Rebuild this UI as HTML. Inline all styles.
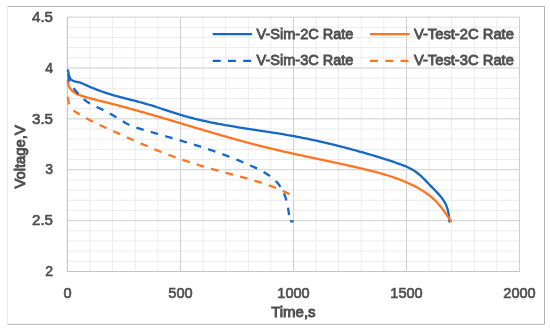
<!DOCTYPE html>
<html><head><meta charset="utf-8"><title>Chart</title>
<style>html,body{margin:0;padding:0;background:#fff}svg{display:block}</style></head>
<body>
<svg width="550" height="332" viewBox="0 0 550 332">
<defs><filter id="soft" x="0" y="0" width="100%" height="100%" filterUnits="objectBoundingBox"><feGaussianBlur stdDeviation="0.4"/></filter></defs>
<rect width="550" height="332" fill="#fff"/>
<g filter="url(#soft)">
<rect width="550" height="332" fill="#fff"/>
<rect x="7.4" y="6.4" width="537.1" height="318.0" fill="#fff" stroke="none"/>
<path d="M7.4 6.5H544.5V324.3H7.4" stroke="#b2b2b2" stroke-width="1" fill="none"/>
<path d="M7.4 6.5V324.3" stroke="#e9e9e9" stroke-width="1" fill="none"/>
<path d="M90.05 17.10V271.50M112.66 17.10V271.50M135.26 17.10V271.50M157.86 17.10V271.50M203.06 17.10V271.50M225.67 17.10V271.50M248.27 17.10V271.50M270.87 17.10V271.50M316.08 17.10V271.50M338.68 17.10V271.50M361.28 17.10V271.50M383.88 17.10V271.50M429.09 17.10V271.50M451.69 17.10V271.50M474.29 17.10V271.50M496.90 17.10V271.50M67.45 27.28H519.50M67.45 37.45H519.50M67.45 47.63H519.50M67.45 57.80H519.50M67.45 78.16H519.50M67.45 88.33H519.50M67.45 98.51H519.50M67.45 108.68H519.50M67.45 129.04H519.50M67.45 139.21H519.50M67.45 149.39H519.50M67.45 159.56H519.50M67.45 179.92H519.50M67.45 190.09H519.50M67.45 200.27H519.50M67.45 210.44H519.50M67.45 230.80H519.50M67.45 240.97H519.50M67.45 251.15H519.50M67.45 261.32H519.50" stroke="#ebebeb" stroke-width="1" fill="none"/>
<path d="M67.45 17.10V271.50M180.46 17.10V271.50M293.47 17.10V271.50M406.49 17.10V271.50M519.50 17.10V271.50M67.45 17.10H519.50M67.45 67.98H519.50M67.45 118.86H519.50M67.45 169.74H519.50M67.45 220.62H519.50M67.45 271.50H519.50" stroke="#cfcfcf" stroke-width="1" fill="none"/>
<path d="M67.45 17.10V271.50H519.50" stroke="#c4c4c4" stroke-width="1.1" fill="none"/>
<path d="M67.90 70.31 L68.30 71.85 L68.64 73.51 L69.00 75.20 L69.48 76.84 L70.17 78.34 L71.15 79.59 L72.43 80.50 L73.95 81.12 L75.58 81.55 L77.24 81.90 L78.89 82.26 L80.50 82.72 L82.05 83.30 L83.56 83.97 L85.06 84.67 L86.56 85.36 L88.07 86.04 L89.59 86.71 L91.11 87.36 L92.64 87.99 L94.18 88.62 L95.72 89.23 L97.27 89.82 L98.83 90.41 L100.39 90.98 L101.95 91.53 L103.52 92.08 L105.09 92.61 L106.67 93.13 L108.25 93.64 L109.84 94.13 L111.43 94.62 L113.02 95.09 L114.61 95.55 L116.21 96.00 L117.81 96.44 L119.42 96.88 L121.02 97.30 L122.63 97.72 L124.24 98.13 L125.85 98.54 L127.46 98.95 L129.07 99.36 L130.68 99.76 L132.29 100.16 L133.90 100.57 L135.50 100.98 L137.11 101.39 L138.72 101.81 L140.32 102.24 L141.93 102.67 L143.53 103.11 L145.12 103.56 L146.72 104.03 L148.31 104.50 L149.90 104.98 L151.49 105.47 L153.07 105.96 L154.66 106.47 L156.24 106.98 L157.82 107.49 L159.40 108.01 L160.98 108.53 L162.56 109.05 L164.14 109.57 L165.72 110.09 L167.30 110.61 L168.88 111.14 L170.46 111.65 L172.04 112.17 L173.62 112.68 L175.20 113.18 L176.79 113.68 L178.37 114.17 L179.96 114.66 L181.55 115.13 L183.14 115.60 L184.74 116.05 L186.33 116.50 L187.93 116.94 L189.53 117.37 L191.13 117.79 L192.74 118.21 L194.35 118.61 L195.95 119.01 L197.56 119.40 L199.18 119.78 L200.79 120.16 L202.41 120.53 L204.02 120.89 L205.64 121.24 L207.26 121.59 L208.88 121.94 L210.51 122.27 L212.13 122.60 L213.76 122.93 L215.39 123.25 L217.01 123.56 L218.64 123.87 L220.28 124.18 L221.91 124.48 L223.54 124.77 L225.18 125.06 L226.81 125.35 L228.45 125.64 L230.08 125.92 L231.72 126.19 L233.36 126.47 L235.00 126.74 L236.64 127.01 L238.28 127.27 L239.92 127.54 L241.57 127.80 L243.21 128.06 L244.85 128.31 L246.50 128.57 L248.14 128.82 L249.78 129.08 L251.43 129.33 L253.07 129.58 L254.72 129.83 L256.36 130.08 L258.01 130.33 L259.65 130.58 L261.30 130.83 L262.94 131.08 L264.59 131.33 L266.23 131.59 L267.88 131.84 L269.52 132.10 L271.17 132.35 L272.81 132.61 L274.46 132.87 L276.10 133.13 L277.74 133.39 L279.38 133.66 L281.03 133.93 L282.67 134.20 L284.31 134.48 L285.95 134.76 L287.58 135.04 L289.22 135.32 L290.86 135.61 L292.50 135.91 L294.13 136.20 L295.77 136.50 L297.40 136.81 L299.03 137.12 L300.66 137.44 L302.29 137.76 L303.92 138.08 L305.55 138.41 L307.18 138.74 L308.80 139.07 L310.43 139.41 L312.05 139.76 L313.68 140.10 L315.30 140.46 L316.92 140.81 L318.54 141.17 L320.16 141.54 L321.78 141.90 L323.40 142.27 L325.02 142.65 L326.63 143.03 L328.25 143.41 L329.86 143.79 L331.48 144.18 L333.09 144.58 L334.70 144.97 L336.31 145.37 L337.92 145.78 L339.53 146.18 L341.14 146.59 L342.75 147.01 L344.36 147.42 L345.96 147.84 L347.57 148.27 L349.17 148.69 L350.77 149.12 L352.38 149.56 L353.98 149.99 L355.58 150.43 L357.18 150.88 L358.78 151.32 L360.37 151.77 L361.97 152.22 L363.57 152.67 L365.16 153.13 L366.76 153.59 L368.35 154.05 L369.95 154.52 L371.54 154.99 L373.13 155.46 L374.72 155.93 L376.31 156.41 L377.90 156.89 L379.49 157.37 L381.07 157.86 L382.66 158.35 L384.24 158.85 L385.82 159.35 L387.40 159.86 L388.98 160.37 L390.56 160.89 L392.13 161.42 L393.70 161.95 L395.27 162.49 L396.84 163.04 L398.40 163.60 L399.96 164.16 L401.52 164.73 L403.07 165.32 L404.62 165.93 L406.15 166.56 L407.68 167.23 L409.18 167.94 L410.66 168.70 L412.13 169.51 L413.56 170.37 L414.97 171.29 L416.34 172.25 L417.66 173.25 L418.95 174.29 L420.20 175.36 L421.42 176.46 L422.62 177.59 L423.79 178.73 L424.95 179.90 L426.10 181.08 L427.24 182.27 L428.38 183.47 L429.52 184.68 L430.67 185.88 L431.84 187.08 L433.01 188.28 L434.20 189.49 L435.38 190.69 L436.55 191.91 L437.70 193.13 L438.83 194.37 L439.93 195.63 L440.99 196.91 L442.01 198.22 L442.97 199.56 L443.88 200.93 L444.72 202.34 L445.48 203.79 L446.17 205.28 L446.77 206.81 L447.30 208.38 L447.76 209.97 L448.15 211.59 L448.49 213.23 L448.76 214.88 L448.98 216.54 L449.16 218.20 L449.29 219.85 L449.38 221.50" stroke="#1767c6" stroke-width="2.3" fill="none" stroke-linejoin="round" stroke-linecap="round"/>
<path d="M67.80 80.45 L67.81 82.18 L68.05 83.83 L68.51 85.40 L69.17 86.87 L69.99 88.25 L70.97 89.52 L72.07 90.67 L73.28 91.71 L74.57 92.63 L75.93 93.44 L77.36 94.16 L78.84 94.80 L80.36 95.38 L81.91 95.90 L83.49 96.39 L85.06 96.85 L86.64 97.31 L88.22 97.75 L89.79 98.18 L91.37 98.60 L92.94 99.02 L94.51 99.43 L96.08 99.84 L97.64 100.24 L99.21 100.64 L100.77 101.03 L102.34 101.42 L103.90 101.81 L105.46 102.20 L107.02 102.60 L108.58 102.99 L110.14 103.38 L111.70 103.78 L113.26 104.18 L114.82 104.58 L116.38 104.99 L117.94 105.39 L119.50 105.80 L121.05 106.22 L122.61 106.63 L124.17 107.05 L125.72 107.47 L127.28 107.89 L128.84 108.31 L130.39 108.74 L131.95 109.17 L133.50 109.60 L135.06 110.03 L136.61 110.47 L138.17 110.90 L139.72 111.34 L141.28 111.78 L142.83 112.22 L144.38 112.67 L145.94 113.11 L147.49 113.56 L149.05 114.00 L150.60 114.45 L152.15 114.90 L153.70 115.35 L155.26 115.81 L156.81 116.26 L158.36 116.72 L159.92 117.17 L161.47 117.63 L163.02 118.09 L164.57 118.54 L166.12 119.00 L167.68 119.46 L169.23 119.92 L170.78 120.39 L172.33 120.85 L173.89 121.31 L175.44 121.77 L176.99 122.24 L178.54 122.70 L180.10 123.16 L181.65 123.63 L183.20 124.09 L184.75 124.55 L186.31 125.02 L187.86 125.48 L189.41 125.95 L190.96 126.41 L192.52 126.87 L194.07 127.34 L195.62 127.80 L197.18 128.26 L198.73 128.73 L200.29 129.19 L201.84 129.65 L203.39 130.11 L204.95 130.57 L206.50 131.03 L208.06 131.49 L209.61 131.94 L211.17 132.40 L212.72 132.85 L214.28 133.31 L215.84 133.76 L217.39 134.21 L218.95 134.67 L220.51 135.11 L222.06 135.56 L223.62 136.01 L225.18 136.46 L226.74 136.90 L228.30 137.34 L229.86 137.78 L231.42 138.22 L232.98 138.66 L234.54 139.09 L236.10 139.53 L237.66 139.96 L239.22 140.39 L240.78 140.82 L242.35 141.24 L243.91 141.66 L245.47 142.09 L247.04 142.50 L248.60 142.92 L250.16 143.34 L251.73 143.75 L253.30 144.16 L254.86 144.56 L256.43 144.97 L258.00 145.37 L259.56 145.77 L261.13 146.16 L262.70 146.55 L264.27 146.94 L265.84 147.33 L267.41 147.71 L268.98 148.10 L270.56 148.47 L272.13 148.85 L273.70 149.22 L275.28 149.59 L276.85 149.96 L278.42 150.33 L280.00 150.69 L281.58 151.05 L283.15 151.41 L284.73 151.77 L286.30 152.12 L287.88 152.47 L289.46 152.82 L291.04 153.17 L292.61 153.52 L294.19 153.87 L295.77 154.22 L297.35 154.56 L298.93 154.90 L300.51 155.24 L302.09 155.58 L303.67 155.92 L305.25 156.26 L306.83 156.60 L308.41 156.94 L309.99 157.28 L311.57 157.61 L313.15 157.95 L314.73 158.28 L316.31 158.62 L317.90 158.95 L319.48 159.29 L321.06 159.62 L322.64 159.96 L324.22 160.29 L325.80 160.63 L327.38 160.97 L328.96 161.30 L330.54 161.64 L332.12 161.98 L333.71 162.32 L335.29 162.66 L336.87 163.00 L338.45 163.34 L340.03 163.68 L341.61 164.02 L343.19 164.37 L344.77 164.71 L346.35 165.06 L347.92 165.41 L349.50 165.76 L351.08 166.11 L352.66 166.47 L354.24 166.82 L355.81 167.18 L357.39 167.54 L358.97 167.90 L360.54 168.27 L362.12 168.64 L363.70 169.01 L365.27 169.38 L366.84 169.76 L368.41 170.14 L369.98 170.53 L371.55 170.93 L373.12 171.33 L374.69 171.73 L376.25 172.15 L377.81 172.57 L379.37 173.00 L380.93 173.44 L382.48 173.88 L384.03 174.34 L385.58 174.80 L387.12 175.27 L388.67 175.76 L390.21 176.26 L391.74 176.76 L393.27 177.28 L394.80 177.81 L396.33 178.36 L397.85 178.91 L399.36 179.48 L400.87 180.07 L402.38 180.67 L403.88 181.28 L405.38 181.91 L406.88 182.55 L408.36 183.22 L409.84 183.89 L411.32 184.59 L412.78 185.30 L414.24 186.03 L415.68 186.79 L417.12 187.56 L418.54 188.35 L419.94 189.16 L421.34 189.99 L422.71 190.85 L424.07 191.72 L425.41 192.62 L426.73 193.55 L428.03 194.50 L429.32 195.47 L430.57 196.47 L431.81 197.49 L433.02 198.54 L434.20 199.62 L435.36 200.73 L436.49 201.86 L437.59 203.02 L438.66 204.21 L439.70 205.44 L440.72 206.68 L441.71 207.95 L442.68 209.24 L443.63 210.55 L444.56 211.87 L445.49 213.20 L446.41 214.54 L447.32 215.88 L448.23 217.22 L449.14 218.55 L450.06 219.88 L450.99 221.20" stroke="#ff7420" stroke-width="2.3" fill="none" stroke-linejoin="round" stroke-linecap="round"/>
<path d="M67.90 70.30 L68.06 71.37 L68.18 72.46 L68.28 73.57 L68.38 74.69 L68.47 75.82 L68.58 76.95 L68.72 78.07 L68.89 79.18 L69.12 80.28 L69.42 81.34 L69.79 82.38 L70.23 83.38 L70.75 84.34 L71.33 85.28 L71.96 86.18 L72.64 87.06 L73.33 87.94 L74.04 88.81 L74.74 89.67 L75.45 90.53 L76.17 91.39 L76.90 92.24 L77.63 93.07 L78.37 93.90 L79.13 94.72 L79.90 95.52 L80.68 96.31 L81.48 97.08 L82.29 97.83 L83.11 98.57 L83.96 99.29 L84.81 99.99 L85.69 100.67 L86.58 101.33 L87.49 101.97 L88.42 102.58 L89.36 103.18 L90.33 103.74 L91.31 104.29 L92.31 104.81 L93.32 105.32 L94.34 105.81 L95.36 106.29 L96.38 106.77 L97.40 107.24 L98.41 107.71 L99.41 108.18 L100.41 108.65 L101.41 109.12 L102.40 109.60 L103.38 110.08 L104.37 110.56 L105.35 111.06 L106.32 111.56 L107.29 112.06 L108.26 112.58 L109.22 113.11 L110.19 113.65 L111.15 114.21 L112.10 114.77 L113.06 115.35 L114.01 115.93 L114.96 116.52 L115.92 117.11 L116.87 117.71 L117.82 118.31 L118.77 118.90 L119.73 119.50 L120.69 120.09 L121.65 120.67 L122.61 121.24 L123.58 121.81 L124.55 122.37 L125.53 122.91 L126.51 123.43 L127.50 123.94 L128.49 124.44 L129.49 124.91 L130.49 125.36 L131.51 125.79 L132.52 126.21 L133.55 126.60 L134.58 126.98 L135.61 127.35 L136.65 127.71 L137.70 128.05 L138.74 128.38 L139.80 128.71 L140.85 129.03 L141.91 129.35 L142.96 129.66 L144.03 129.98 L145.09 130.29 L146.15 130.60 L147.21 130.91 L148.28 131.22 L149.35 131.53 L150.42 131.84 L151.49 132.15 L152.56 132.46 L153.63 132.77 L154.70 133.08 L155.77 133.39 L156.84 133.70 L157.92 134.01 L158.99 134.32 L160.07 134.63 L161.14 134.93 L162.22 135.24 L163.29 135.55 L164.37 135.86 L165.45 136.17 L166.52 136.48 L167.60 136.79 L168.67 137.10 L169.75 137.41 L170.82 137.72 L171.90 138.03 L172.97 138.34 L174.04 138.65 L175.12 138.96 L176.19 139.28 L177.26 139.59 L178.33 139.90 L179.40 140.22 L180.47 140.53 L181.53 140.85 L182.60 141.16 L183.67 141.48 L184.73 141.80 L185.79 142.12 L186.86 142.44 L187.92 142.76 L188.98 143.08 L190.04 143.40 L191.10 143.72 L192.15 144.05 L193.21 144.37 L194.27 144.70 L195.32 145.03 L196.38 145.36 L197.43 145.69 L198.48 146.02 L199.54 146.36 L200.59 146.69 L201.64 147.03 L202.69 147.37 L203.74 147.71 L204.79 148.05 L205.83 148.39 L206.88 148.74 L207.93 149.09 L208.97 149.44 L210.02 149.79 L211.06 150.14 L212.11 150.50 L213.15 150.85 L214.20 151.21 L215.24 151.57 L216.28 151.94 L217.32 152.30 L218.36 152.67 L219.40 153.04 L220.45 153.42 L221.49 153.79 L222.52 154.17 L223.56 154.55 L224.60 154.94 L225.64 155.32 L226.68 155.71 L227.72 156.10 L228.75 156.50 L229.79 156.89 L230.83 157.29 L231.86 157.70 L232.90 158.10 L233.94 158.51 L234.97 158.92 L236.01 159.34 L237.04 159.76 L238.08 160.18 L239.11 160.61 L240.15 161.03 L241.18 161.47 L242.22 161.90 L243.25 162.34 L244.29 162.78 L245.32 163.23 L246.36 163.68 L247.39 164.13 L248.42 164.59 L249.46 165.05 L250.49 165.51 L251.53 165.98 L252.56 166.45 L253.59 166.93 L254.62 167.41 L255.65 167.90 L256.67 168.40 L257.69 168.90 L258.70 169.41 L259.71 169.93 L260.71 170.46 L261.70 170.99 L262.68 171.54 L263.66 172.09 L264.62 172.66 L265.57 173.24 L266.51 173.83 L267.44 174.43 L268.36 175.04 L269.26 175.67 L270.15 176.32 L271.02 176.97 L271.88 177.64 L272.72 178.33 L273.54 179.03 L274.34 179.75 L275.13 180.49 L275.89 181.24 L276.63 182.02 L277.36 182.81 L278.05 183.62 L278.73 184.45 L279.38 185.30 L280.01 186.17 L280.61 187.06 L281.19 187.98 L281.74 188.91 L282.27 189.86 L282.77 190.83 L283.25 191.82 L283.71 192.83 L284.14 193.85 L284.56 194.88 L284.95 195.93 L285.32 196.99 L285.67 198.06 L286.01 199.14 L286.32 200.23 L286.62 201.33 L286.90 202.43 L287.16 203.54 L287.41 204.66 L287.64 205.78 L287.85 206.90 L288.05 208.02 L288.24 209.15 L288.42 210.27 L288.58 211.39 L288.73 212.51 L288.87 213.63 L288.99 214.74 L289.11 215.85 L289.22 216.95 L289.32 218.04 L289.41 219.13 L289.49 220.20 L289.57 221.27" stroke="#1767c6" stroke-width="2.3" fill="none" stroke-linejoin="round" stroke-dasharray="7.6 7.4" stroke-dashoffset="10.8"/>
<path d="M289.9 221.3H293.6" stroke="#1767c6" stroke-width="2.3" fill="none"/>
<path d="M67.82 96.49 L67.90 97.41 L68.01 98.36 L68.15 99.31 L68.31 100.27 L68.51 101.23 L68.73 102.18 L69.00 103.12 L69.31 104.05 L69.66 104.95 L70.05 105.83 L70.49 106.67 L70.99 107.47 L71.53 108.23 L72.13 108.95 L72.77 109.62 L73.45 110.27 L74.17 110.88 L74.92 111.46 L75.69 112.02 L76.49 112.56 L77.30 113.08 L78.13 113.59 L78.97 114.09 L79.81 114.58 L80.64 115.06 L81.48 115.55 L82.32 116.03 L83.15 116.51 L83.99 116.98 L84.82 117.45 L85.66 117.92 L86.49 118.38 L87.33 118.84 L88.17 119.29 L89.01 119.75 L89.85 120.19 L90.69 120.63 L91.53 121.07 L92.38 121.51 L93.23 121.93 L94.09 122.36 L94.94 122.78 L95.80 123.19 L96.66 123.60 L97.53 124.01 L98.39 124.42 L99.26 124.82 L100.13 125.22 L101.00 125.62 L101.87 126.01 L102.75 126.41 L103.62 126.80 L104.49 127.20 L105.37 127.59 L106.24 127.98 L107.11 128.38 L107.99 128.77 L108.86 129.17 L109.73 129.56 L110.61 129.95 L111.48 130.35 L112.35 130.75 L113.23 131.14 L114.10 131.54 L114.97 131.93 L115.85 132.33 L116.72 132.72 L117.59 133.12 L118.46 133.51 L119.34 133.91 L120.21 134.31 L121.08 134.70 L121.96 135.10 L122.83 135.49 L123.70 135.88 L124.58 136.28 L125.45 136.67 L126.32 137.07 L127.20 137.46 L128.07 137.85 L128.95 138.24 L129.82 138.63 L130.69 139.03 L131.57 139.42 L132.44 139.81 L133.32 140.19 L134.19 140.58 L135.07 140.97 L135.95 141.36 L136.82 141.74 L137.70 142.13 L138.58 142.51 L139.45 142.90 L140.33 143.28 L141.21 143.66 L142.09 144.04 L142.96 144.42 L143.84 144.80 L144.72 145.18 L145.60 145.56 L146.48 145.93 L147.36 146.31 L148.24 146.68 L149.13 147.05 L150.01 147.42 L150.89 147.79 L151.77 148.16 L152.66 148.53 L153.54 148.89 L154.42 149.26 L155.31 149.62 L156.19 149.98 L157.08 150.34 L157.97 150.70 L158.85 151.05 L159.74 151.41 L160.63 151.76 L161.52 152.11 L162.41 152.46 L163.30 152.81 L164.19 153.16 L165.08 153.50 L165.97 153.84 L166.87 154.18 L167.76 154.52 L168.65 154.86 L169.55 155.19 L170.45 155.52 L171.34 155.86 L172.24 156.18 L173.14 156.51 L174.04 156.84 L174.93 157.16 L175.83 157.48 L176.74 157.80 L177.64 158.12 L178.54 158.43 L179.44 158.75 L180.34 159.06 L181.25 159.37 L182.15 159.68 L183.06 159.99 L183.96 160.29 L184.87 160.60 L185.78 160.90 L186.68 161.20 L187.59 161.50 L188.50 161.80 L189.41 162.09 L190.32 162.39 L191.23 162.68 L192.14 162.97 L193.05 163.26 L193.96 163.55 L194.88 163.84 L195.79 164.13 L196.70 164.41 L197.62 164.70 L198.53 164.98 L199.45 165.26 L200.36 165.54 L201.28 165.82 L202.19 166.09 L203.11 166.37 L204.03 166.64 L204.95 166.92 L205.86 167.19 L206.78 167.46 L207.70 167.73 L208.62 168.00 L209.54 168.27 L210.46 168.54 L211.38 168.80 L212.30 169.07 L213.22 169.33 L214.14 169.60 L215.06 169.86 L215.99 170.12 L216.91 170.38 L217.83 170.64 L218.75 170.90 L219.68 171.16 L220.60 171.41 L221.52 171.67 L222.45 171.93 L223.37 172.18 L224.30 172.43 L225.22 172.69 L226.15 172.94 L227.07 173.19 L228.00 173.44 L228.93 173.70 L229.85 173.95 L230.78 174.20 L231.70 174.44 L232.63 174.69 L233.56 174.94 L234.49 175.19 L235.41 175.44 L236.34 175.68 L237.27 175.93 L238.19 176.18 L239.12 176.43 L240.05 176.67 L240.98 176.92 L241.90 177.17 L242.83 177.42 L243.75 177.67 L244.68 177.92 L245.61 178.17 L246.53 178.43 L247.46 178.68 L248.38 178.94 L249.30 179.19 L250.23 179.45 L251.15 179.71 L252.07 179.98 L252.99 180.24 L253.91 180.51 L254.83 180.78 L255.75 181.05 L256.66 181.32 L257.58 181.60 L258.49 181.88 L259.41 182.16 L260.32 182.44 L261.23 182.73 L262.14 183.02 L263.05 183.32 L263.96 183.61 L264.87 183.91 L265.77 184.22 L266.68 184.53 L267.58 184.84 L268.48 185.16 L269.38 185.48 L270.28 185.80 L271.17 186.13 L272.07 186.47 L272.96 186.81 L273.85 187.15 L274.74 187.50 L275.62 187.85 L276.51 188.21 L277.39 188.57 L278.27 188.94 L279.15 189.32 L280.03 189.70 L280.90 190.08 L281.77 190.47 L282.64 190.87 L283.51 191.28 L284.38 191.69 L285.24 192.10 L286.10 192.52 L286.96 192.95 L287.81 193.39 L288.66 193.83 L289.51 194.28" stroke="#ff7420" stroke-width="2.3" fill="none" stroke-linejoin="round" stroke-dasharray="7.6 7.4" stroke-dashoffset="-0.3"/>
<path d="M212.7 34.05H252.2" stroke="#1767c6" stroke-width="2.3"/>
<path d="M212.7 60.9H252.2" stroke="#1767c6" stroke-width="2.3" stroke-dasharray="8 7.25"/>
<path d="M370 34.05H409.5" stroke="#ff7420" stroke-width="2.3"/>
<path d="M370 60.9H409.5" stroke="#ff7420" stroke-width="2.3" stroke-dasharray="8 7.25"/>
<g font-family="'Liberation Sans', Arial, sans-serif" font-weight="normal" font-size="15" fill="#4f4f4f" stroke="#4f4f4f" stroke-width="0.65">
<text x="256.6" y="38.5" text-anchor="start" textLength="96.8" lengthAdjust="spacingAndGlyphs" stroke-width="0.85">V-Sim-2C Rate</text>
<text x="256.6" y="65.4" text-anchor="start" textLength="96.8" lengthAdjust="spacingAndGlyphs" stroke-width="0.85">V-Sim-3C Rate</text>
<text x="413.9" y="38.5" text-anchor="start" textLength="100.0" lengthAdjust="spacingAndGlyphs" stroke-width="0.85">V-Test-2C Rate</text>
<text x="413.9" y="65.4" text-anchor="start" textLength="100.0" lengthAdjust="spacingAndGlyphs" stroke-width="0.85">V-Test-3C Rate</text>
<text x="32.0" y="21.7" text-anchor="start" textLength="21.0" lengthAdjust="spacingAndGlyphs">4.5</text>
<text x="45.2" y="72.6" text-anchor="start" textLength="7.8" lengthAdjust="spacingAndGlyphs">4</text>
<text x="32.0" y="123.5" text-anchor="start" textLength="21.0" lengthAdjust="spacingAndGlyphs">3.5</text>
<text x="45.2" y="174.3" text-anchor="start" textLength="7.8" lengthAdjust="spacingAndGlyphs">3</text>
<text x="32.0" y="225.2" text-anchor="start" textLength="21.0" lengthAdjust="spacingAndGlyphs">2.5</text>
<text x="45.2" y="276.1" text-anchor="start" textLength="7.8" lengthAdjust="spacingAndGlyphs">2</text>
<text x="63.4" y="298.0" text-anchor="start" textLength="8.1" lengthAdjust="spacingAndGlyphs">0</text>
<text x="168.3" y="298.0" text-anchor="start" textLength="24.3" lengthAdjust="spacingAndGlyphs">500</text>
<text x="277.3" y="298.0" text-anchor="start" textLength="32.4" lengthAdjust="spacingAndGlyphs">1000</text>
<text x="390.3" y="298.0" text-anchor="start" textLength="32.4" lengthAdjust="spacingAndGlyphs">1500</text>
<text x="503.3" y="298.0" text-anchor="start" textLength="32.4" lengthAdjust="spacingAndGlyphs">2000</text>
<text x="271.2" y="317.3" text-anchor="start" textLength="44.4" lengthAdjust="spacingAndGlyphs" stroke-width="0.95">Time,s</text>
<text transform="translate(25.4 188.6) rotate(-90)" stroke-width="0.95" textLength="63.4" lengthAdjust="spacingAndGlyphs">Voltage,V</text>
</g>
</g>
</svg>
</body></html>
